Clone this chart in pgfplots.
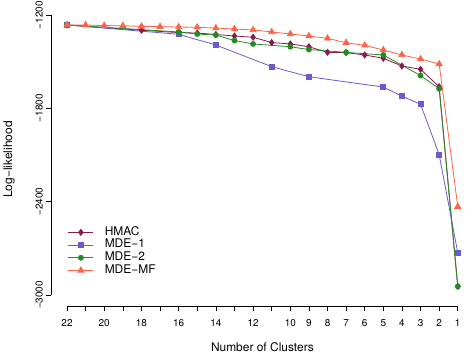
\documentclass[border=0pt]{standalone}
\usepackage{fontspec}
\setmainfont{TeX Gyre Heros}
\usepackage{pgfplots}
\pgfplotsset{compat=1.18}
\definecolor{hmac}{HTML}{8B1A4A}
\definecolor{mdeone}{HTML}{6A5ACD}
\definecolor{mdetwo}{HTML}{228B22}
\definecolor{mdemf}{HTML}{FF6347}
\begin{document}
\begin{tikzpicture}
\begin{axis}[
  scale only axis, width=422bp, height=293bp,
  x dir=reverse, xmin=0.16, xmax=22.84,
  ymin=-3071, ymax=-1187,
  axis x line*=bottom, axis y line*=left,
  axis line style={draw=none},
  tick align=outside, major tick length=5bp,
  every tick/.style={black, line width=0.6pt},
  xtick={1,...,22},
  xticklabels={1,2,3,4,5,6,7,8,9,10,,12,,14,,16,,18,,20,,22},
  ytick={-3000,-2400,-1800,-1200},
  yticklabels={−3000,−2400,−1800,−1200},
  ticklabel style={font=\fontsize{10}{10}\selectfont},
  xticklabel style={yshift=-5bp},
  yticklabel style={rotate=90, anchor=south, xshift=0bp},
  xlabel={Number of Clusters}, ylabel={Log−likelihood},
  label style={font=\fontsize{12}{12}\selectfont},
  xlabel style={at={(axis description cs:0.5,-0.14)}, anchor=center},
  ylabel style={at={(axis description cs:-0.1005,0.5)}, anchor=center},
  clip=false,
  legend cell align=left,
  legend image code/.code={\draw[mark repeat=2,mark phase=2] plot coordinates {(0bp,0bp) (12.5bp,0bp) (25bp,0bp)};},
  legend style={at={(axis description cs:0.0393,0.273)}, anchor=north west, draw=none, fill=none,
    inner sep=0pt, outer sep=0pt, font=\fontsize{12}{12}\selectfont,
    nodes={inner sep=0pt, text height=9bp, text depth=3.7bp},
    /tikz/every odd column/.append style={column sep=11bp}},
  every axis plot/.append style={line width=0.8pt},
]
\addplot[hmac, mark=diamond*, mark size=3bp] coordinates {
(22,-1264) (18,-1298) (16,-1313) (15,-1316) (14,-1325) (13,-1335) (12,-1343)
(11,-1377) (10,-1386) (9,-1404) (8,-1440) (7,-1442) (6,-1457) (5,-1478)
(4,-1528) (3,-1549) (2,-1661) (1,-2945)};
\addlegendentry{HMAC}
\addplot[mdeone, mark=square*, mark size=2.5bp] coordinates {
(22,-1264) (16,-1324) (14,-1393) (11,-1532) (9,-1597) (5,-1663) (4,-1722)
(3,-1774) (2,-2097) (1,-2728)};
\addlegendentry{MDE−1}
\addplot[mdetwo, mark=*, mark size=2.5bp] coordinates {
(22,-1264) (16,-1309) (15,-1322) (14,-1329) (13,-1364) (12,-1386) (10,-1404)
(9,-1422) (7,-1440) (5,-1457) (3,-1589) (2,-1674) (1,-2945)};
\addlegendentry{MDE−2}
\addplot[mdemf, mark=triangle*, mark size=3.5bp] coordinates {
(22,-1264) (21,-1264) (20,-1268) (19,-1269) (18,-1273) (17,-1275) (16,-1277)
(15,-1279) (14,-1284) (13,-1290) (12,-1296) (11,-1309) (10,-1322) (9,-1335)
(8,-1350) (7,-1378) (6,-1395) (5,-1425) (4,-1457) (3,-1483) (2,-1515) (1,-2432)};
\addlegendentry{MDE−MF}
\draw[black, line width=0.6pt] (axis cs:22,-3071) -- (axis cs:1,-3071);
\draw[black, line width=0.6pt] (axis cs:22.84,-1200) -- (axis cs:22.84,-3000);
\end{axis}
\pgfresetboundingbox
\path (-51.4bp,-50bp) rectangle (422.6bp,306bp);
\end{tikzpicture}
\end{document}
